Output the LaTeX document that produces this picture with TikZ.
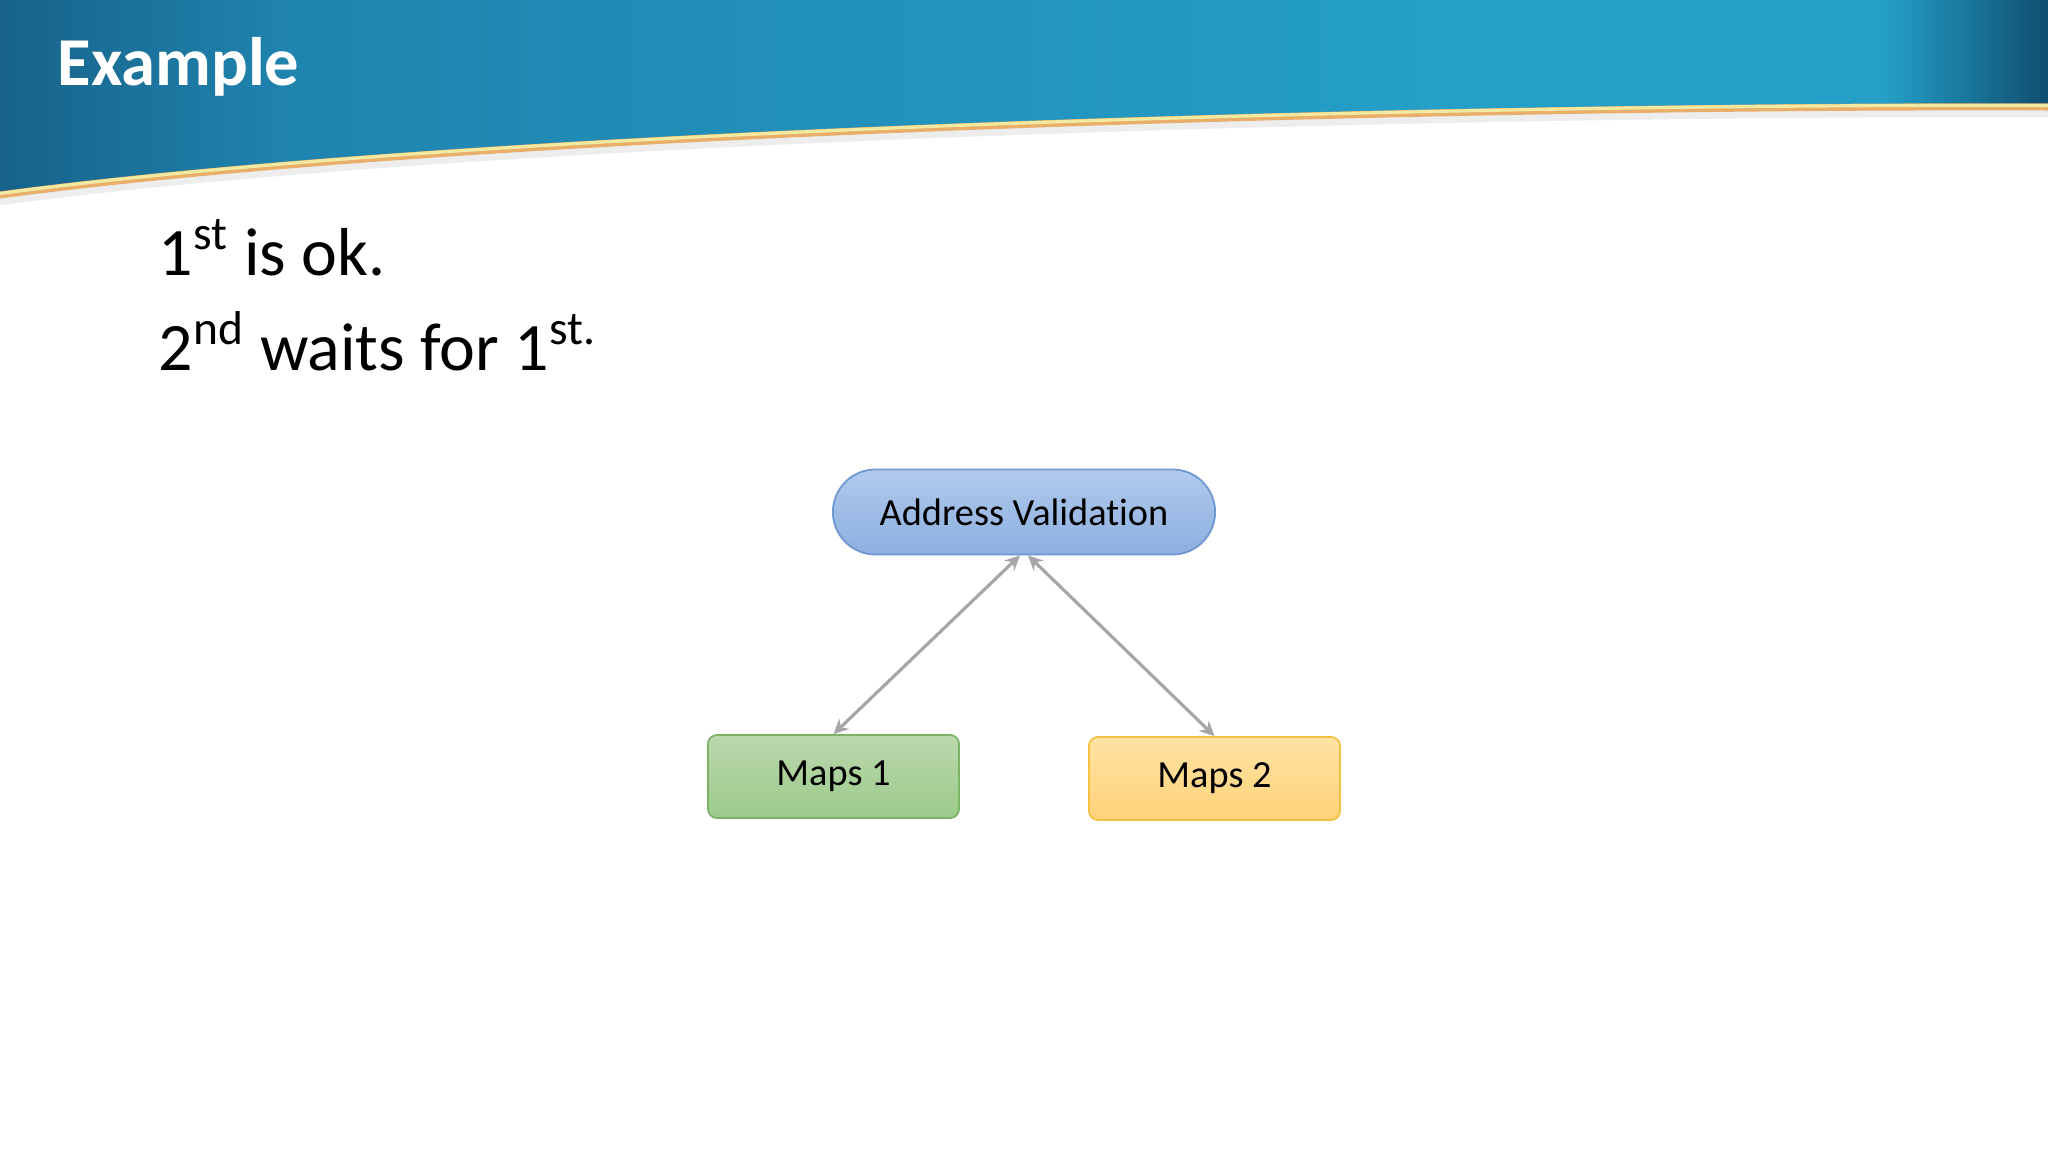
\documentclass[tikz,border=0pt]{standalone}
\usepackage{xcolor}
\usepackage{tikz}
\usepackage{fontspec}
\setmainfont{Carlito}[Ligatures=NoCommon]
\usetikzlibrary{arrows.meta}

\definecolor{hdrA}{HTML}{17628A}
\definecolor{hdrB}{HTML}{1F84AE}
\definecolor{hdrC}{HTML}{249FC8}
\definecolor{hdrD}{HTML}{0F4E70}
\definecolor{rimyellow}{HTML}{F3EAA2}
\definecolor{rimorange}{HTML}{E9AE6A}
\definecolor{avtop}{HTML}{B0CAEC}
\definecolor{avbot}{HTML}{8DAEE0}
\definecolor{avline}{HTML}{6F97D2}
\definecolor{gtop}{HTML}{BAD9AD}
\definecolor{gbot}{HTML}{9CC98A}
\definecolor{gline}{HTML}{7DB366}
\definecolor{ytop}{HTML}{FFE3A3}
\definecolor{ybot}{HTML}{FFD27A}
\definecolor{yline}{HTML}{F4C243}
\definecolor{linkgray}{HTML}{A6A6A6}

\pgfdeclarehorizontalshading{hdrshade}{100bp}{color(0bp)=(hdrA); color(25bp)=(hdrA);
  color(32bp)=(hdrB); color(60bp)=(hdrC); color(71bp)=(hdrC); color(75bp)=(hdrD); color(100bp)=(hdrD)}

\tikzset{
  mapbox/.style={draw, line width=0.5pt, rounded corners=0.09cm, minimum width=2.51cm,
    minimum height=0.83cm, font=\fontsize{10.9}{13}\selectfont},
  linkarrow/.style={draw=linkgray, line width=0.9pt, {Stealth[length=4.2pt,width=4pt]}-{Stealth[length=4.2pt,width=4pt]}}
}

\begin{document}
\begin{tikzpicture}[x=0.01cm, y=-0.01cm]
  \useasboundingbox (0,0) rectangle (2048,1152);
  \fill[white] (0,0) rectangle (2048,1152);

  % header band
  \shade[shading=hdrshade] (0,0) -- (2048,0) -- (2048,107)
    .. controls (1500,105) and (500,128) .. (0,195) -- cycle;
  \draw[black, opacity=0.07, line width=3pt] (2048,112) .. controls (1500,110) and (500,133) .. (0,200);
  \draw[rimorange, line width=2pt] (2048,107) .. controls (1500,105) and (500,128) .. (0,195);
  \draw[rimyellow, line width=0.9pt] (2048,105.5) .. controls (1500,103.5) and (500,126.5) .. (0,193.5);

  \node[anchor=base west, text=white, inner sep=0pt, font=\fontsize{19.5}{22}\selectfont\bfseries] (title) at (57,86) {Example};

  % bullet lines
  \node[anchor=base west, inner sep=0pt, font=\fontsize{19.3}{22}\selectfont] (line1) at (158,276) {1\textsuperscript{st} is ok.};
  \node[anchor=base west, inner sep=0pt, font=\fontsize{19.3}{22}\selectfont] (line2) at (158,371) {2\textsuperscript{nd} waits for 1\textsuperscript{st.}};

  % diagram
  \node[draw=avline, line width=0.5pt, top color=avtop, bottom color=avbot, rounded corners=0.425cm,
    minimum width=3.82cm, minimum height=0.85cm, font=\fontsize{10.9}{13}\selectfont] (av) at (1024,512) {Address Validation};
  \node[mapbox, draw=gline, top color=gtop, bottom color=gbot] (m1) at (833.5,776.5) {Maps 1};
  \node[mapbox, draw=yline, top color=ytop, bottom color=ybot] (m2) at (1214.5,778.5) {Maps 2};

  \draw[linkarrow] ([xshift=-0.04cm]av.south) -- (m1.north);
  \draw[linkarrow] ([xshift=0.04cm]av.south) -- (m2.north);
\end{tikzpicture}
\end{document}
